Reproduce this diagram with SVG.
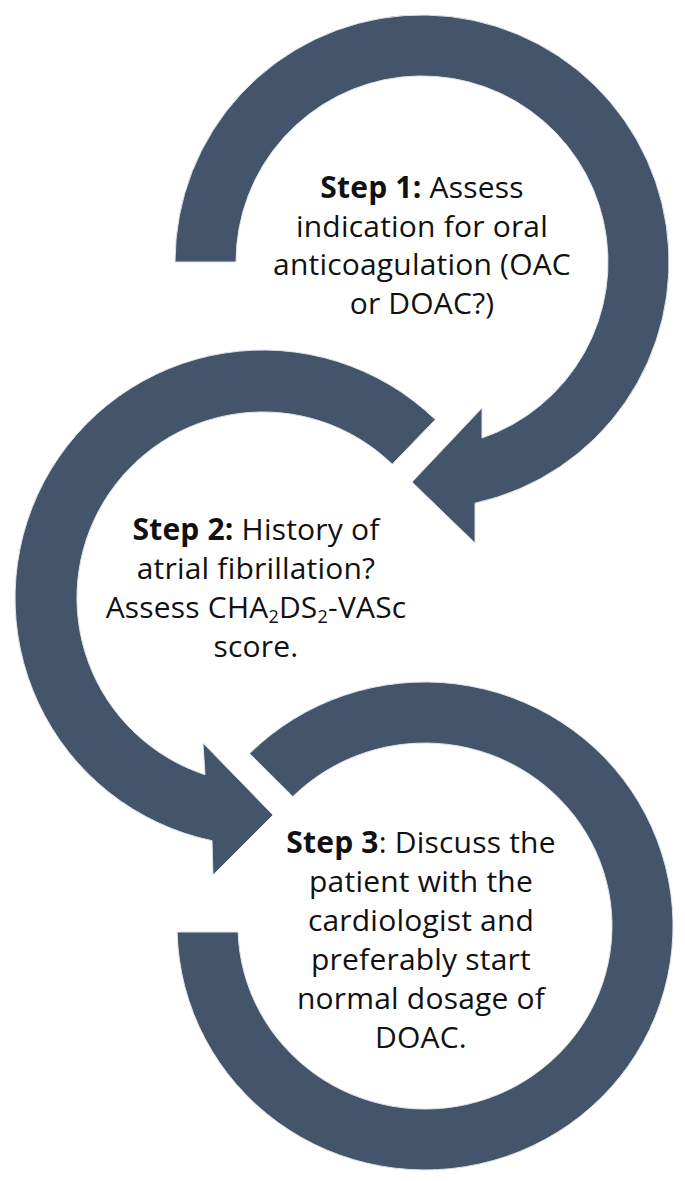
<svg xmlns="http://www.w3.org/2000/svg" width="685" height="1181" viewBox="0 0 685 1181">
<style>
.ring{fill:#44546A;stroke:#dde3ea;stroke-width:1}
.t{font-family:"Open Sans",Lato,"Liberation Sans",sans-serif;font-size:30px;letter-spacing:0.2px;fill:#111;text-anchor:middle}
.b{font-weight:bold}
.sub{font-size:18px}
</style>
<rect width="685" height="1181" fill="#ffffff"/>
<g id="connectors">
<path id="arrow1" class="ring" d="M 175 262 A 247 247 0 1 1 475 503.2 L 475 543 L 412 482 L 482 408 L 482 438 A 186 186 0 1 0 236 262 Z"/>
<path id="arrow2" class="ring" d="M 435.3 419.6 A 248 248 0 1 0 212 840.7 L 213 875 L 273 815 L 203 743 L 205 774.7 A 186 186 0 1 1 392.2 464.2 Z"/>
<path id="arrow3" class="ring" d="M 249.6 753.5 A 248 244 0 1 1 177.1 932 L 238.1 932 A 187 183 0 1 0 292.8 796.6 Z"/>
</g>
<g id="step1">
<text class="t" x="422" y="198"><tspan class="b">Step 1:</tspan> Assess</text>
<text class="t" x="422" y="236.5">indication for oral</text>
<text class="t" x="422" y="275">anticoagulation (OAC</text>
<text class="t" x="422" y="313.5">or DOAC?)</text>
</g>
<g id="step2">
<text class="t" x="256" y="540"><tspan class="b">Step 2:</tspan> History of</text>
<text class="t" x="256" y="579">atrial fibrillation?</text>
<text class="t" x="256" y="618">Assess CHA<tspan class="sub" dy="5">2</tspan><tspan dy="-5">DS</tspan><tspan class="sub" dy="5">2</tspan><tspan dy="-5">-VASc</tspan></text>
<text class="t" x="256" y="657">score.</text>
</g>
<g id="step3">
<text class="t" x="421" y="853"><tspan class="b">Step 3</tspan>: Discuss the</text>
<text class="t" x="421" y="892">patient with the</text>
<text class="t" x="421" y="931">cardiologist and</text>
<text class="t" x="421" y="970">preferably start</text>
<text class="t" x="421" y="1009">normal dosage of</text>
<text class="t" x="421" y="1048">DOAC.</text>
</g>
</svg>
